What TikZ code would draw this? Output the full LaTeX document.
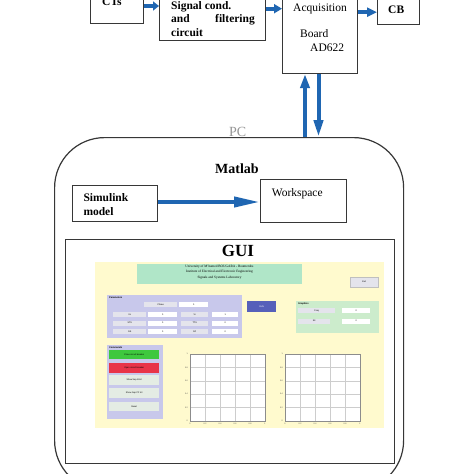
\documentclass[tikz,border=0pt]{standalone}
\usepackage{fontspec}
\setmainfont{Liberation Serif}
\newfontfamily\guifont{Liberation Sans}
\usetikzlibrary{arrows.meta}
\definecolor{arrowblue}{RGB}{31,102,178}
\definecolor{frame}{RGB}{55,55,55}
\definecolor{guiyellow}{RGB}{255,250,206}
\definecolor{mint}{RGB}{176,230,200}
\definecolor{lavender}{RGB}{200,200,235}
\definecolor{runblue}{RGB}{86,96,186}
\definecolor{grpanel}{RGB}{204,236,204}
\definecolor{btngreen}{RGB}{62,200,62}
\definecolor{btnred}{RGB}{232,52,72}
\definecolor{btngray}{RGB}{228,236,228}
\definecolor{lblgray}{RGB}{228,228,236}
\definecolor{pcgray}{RGB}{150,150,150}
\definecolor{gridc}{RGB}{205,205,205}
\begin{document}
\begin{tikzpicture}[x=1pt,y=-1pt,
  blk/.style={draw=frame,line width=1.1pt,inner sep=0pt,fill=white},
  txt/.style={inner sep=0pt,font=\fontsize{11.5}{13}\selectfont},
  btxt/.style={inner sep=0pt,font=\bfseries\fontsize{11.5}{13}\selectfont},
  flow/.style={draw=arrowblue,line width=4pt},
  uibox/.style={inner sep=0pt,anchor=north west,font=\guifont\fontsize{2.2}{2.5}\selectfont},
  uilbl/.style={inner sep=0pt,anchor=west,font=\guifont\bfseries\fontsize{2.4}{2.6}\selectfont},
  tick/.style={inner sep=0pt,font=\guifont\fontsize{2}{2.2}\selectfont,text=black!70}
]
\useasboundingbox (0,0) rectangle (474,474);
\fill[white] (0,0) rectangle (474,474);
\clip (0,0) rectangle (474,474);

% ---------- top chain ----------
\node[blk,minimum width=53pt,minimum height=40pt,anchor=south west] (ct) at (90,24) {};
\node[blk,minimum width=106pt,minimum height=60pt,anchor=south west] (sig) at (159,41) {};
\node[blk,minimum width=75pt,minimum height=90pt,anchor=south west] (daq) at (282,74) {};
\node[blk,minimum width=42pt,minimum height=40pt,anchor=south west] (cb) at (377,25) {};

\node[btxt,anchor=base west] (ctt) at (102,5) {CTs};
\node[btxt,anchor=base west] (sig1) at (171,9.5) {Signal cond.};
\node[btxt,anchor=base west] (sig2) at (171,22.5) {and};
\node[btxt,anchor=base east] (sig3) at (255,22.5) {filtering};
\node[btxt,anchor=base west] (sig4) at (171,36) {circuit};
\node[txt,anchor=base west] (daq1) at (293,11) {Acquisition};
\node[txt,anchor=base west] (daq2) at (300,37.7) {Board};
\node[txt,anchor=base west] (daq3) at (310,51.7) {AD622};
\node[btxt,anchor=base west] (cbt) at (388,13.3) {CB};

\coordinate (ya) at (0,6);
\coordinate (yb) at (0,8.7);
\coordinate (yc) at (0,12.2);
\coordinate (xu) at (305,0);
\coordinate (xd) at (318.5,0);

\draw[flow,-{Triangle[length=6pt,width=9pt]}] (ct.east |- ya) -- (sig.west |- ya);
\draw[flow,-{Triangle[length=8pt,width=9pt]}] (sig.east |- yb) -- (daq.west |- yb);
\draw[flow,-{Triangle[length=10pt,width=9pt]}] (daq.east |- yc) -- (cb.west |- yc);

% ---------- PC ----------
\node[draw=frame,line width=1.2pt,rounded corners=50pt,minimum width=349pt,minimum height=353pt,anchor=north west,inner sep=0pt] (pc) at (54,137) {};
\node[inner sep=0pt,anchor=base west,text=pcgray,font=\fontsize{14}{16}\selectfont] (pct) at (229,136.7) {PC};

\draw[flow,-{Triangle[length=14pt,width=9pt]}] (pc.north -| xu) -- (daq.south -| xu);
\draw[flow,-{Triangle[length=17pt,width=9pt]}] (daq.south -| xd) -- (pc.north -| xd);

\node[inner sep=0pt,anchor=base west,font=\bfseries\fontsize{14}{16}\selectfont] (mat) at (215,173.3) {Matlab};

\node[blk,minimum width=85pt,minimum height=36pt,anchor=north west] (sim) at (72,185) {};
\node[btxt,anchor=base west] (sim1) at (83.3,201.7) {Simulink};
\node[btxt,anchor=base west] (sim2) at (83.3,215) {model};
\node[blk,minimum width=86pt,minimum height=43pt,anchor=north west] (ws) at (260,179) {};
\node[txt,anchor=base west] (wst) at (271.7,196.5) {Workspace};
\draw[flow,-{Triangle[length=26pt,width=10pt]}] (sim.east |- 0,202) -- (ws.west |- 0,202);

% ---------- GUI ----------
\node[blk,minimum width=329pt,minimum height=224pt,anchor=north west] (gui) at (65,239) {};
\node[inner sep=0pt,anchor=base,font=\bfseries\fontsize{17}{19}\selectfont] (guit) at (238,256) {GUI};

\fill[guiyellow] (95,262) rectangle (384,428);
\node[uibox,fill=mint,minimum width=165pt,minimum height=20pt] (title) at (137,264) {};
\node[inner sep=0pt,font=\fontsize{3.4}{4}\selectfont] (tl1) at (219.5,267) {University of M'hamed BOUGARA - Boumerdes};
\node[inner sep=0pt,font=\fontsize{3.4}{4}\selectfont] (tl2) at (219.5,272) {Institute of Electrical and Electronic Engineering};
\node[inner sep=0pt,font=\fontsize{3.4}{4}\selectfont] (tl3) at (219.5,278) {Signals and Systems Laboratory};
\node[uibox,fill=lblgray,draw=black!25,line width=.3pt,minimum width=28pt,minimum height=10pt] (exit) at (350,277) {Exit};

% parameters
\fill[lavender] (107,295) rectangle (242,338);
\node[uilbl] (parl) at (109,298) {Parameters};
\node[uibox,fill=lblgray,minimum width=33pt,minimum height=5pt] (ph) at (144,302) {Phase};
\node[uibox,fill=white,minimum width=29pt,minimum height=5pt] (phv) at (179,302) {0};
\node[uibox,fill=lblgray,minimum width=33pt,minimum height=5pt] (r2a) at (113,312) {Vs};
\node[uibox,fill=white,minimum width=29pt,minimum height=5pt] (r2b) at (148,312) {0};
\node[uibox,fill=lblgray,minimum width=27pt,minimum height=5pt] (r2c) at (181,312) {Vi};
\node[uibox,fill=white,minimum width=26pt,minimum height=5pt] (r2d) at (212,312) {1};
\node[uibox,fill=lblgray,minimum width=33pt,minimum height=5pt] (r3a) at (113,320.5) {STS};
\node[uibox,fill=white,minimum width=29pt,minimum height=5pt] (r3b) at (148,320.5) {0};
\node[uibox,fill=lblgray,minimum width=27pt,minimum height=5pt] (r3c) at (181,320.5) {TTS};
\node[uibox,fill=white,minimum width=26pt,minimum height=5pt] (r3d) at (212,320.5) {0};
\node[uibox,fill=lblgray,minimum width=33pt,minimum height=5pt] (r4a) at (113,329) {NS};
\node[uibox,fill=white,minimum width=29pt,minimum height=5pt] (r4b) at (148,329) {0};
\node[uibox,fill=lblgray,minimum width=27pt,minimum height=5pt] (r4c) at (181,329) {NF};
\node[uibox,fill=white,minimum width=26pt,minimum height=5pt] (r4d) at (212,329) {0};

\node[uibox,fill=runblue,text=white,minimum width=29pt,minimum height=11pt] (run) at (247,301) {RUN};

% graphics
\fill[grpanel] (296,301) rectangle (379,333);
\node[uilbl] (grl) at (298,303.5) {Graphics};
\node[uibox,fill=lblgray,minimum width=37pt,minimum height=5pt] (g1) at (298,308) {Freq};
\node[uibox,fill=white,minimum width=28pt,minimum height=5pt] (g1v) at (342,308) {0};
\node[uibox,fill=lblgray,minimum width=32pt,minimum height=5pt] (g2) at (298,318.5) {Str};
\node[uibox,fill=white,minimum width=28pt,minimum height=5pt] (g2v) at (342,318.5) {0};

% commands
\fill[lavender] (107,345) rectangle (163,419);
\node[uilbl] (cml) at (109,347.5) {Commands};
\node[uibox,fill=btngreen,minimum width=50pt,minimum height=9pt] (c1) at (109,350) {Close circuit breaker};
\node[uibox,fill=btnred,minimum width=50pt,minimum height=10pt] (c2) at (109,363) {Open circuit breaker};
\node[uibox,fill=btngray,minimum width=50pt,minimum height=10pt] (c3) at (109,375) {Show Sep B Int};
\node[uibox,fill=btngray,minimum width=50pt,minimum height=10pt] (c4) at (109,388) {Show Sep PF Int};
\node[uibox,fill=btngray,minimum width=50pt,minimum height=9pt] (c5) at (109,402) {Reset};

% plots
\foreach \ox/\nm in {190/pa,285/pb} {
  \fill[white] (\ox,354) rectangle (\ox+75,421);
  \foreach \i in {1,...,4} {
    \draw[gridc,line width=.5pt] (\ox+15*\i,354) -- (\ox+15*\i,421);
    \draw[gridc,line width=.5pt] (\ox,354+13.4*\i) -- (\ox+75,354+13.4*\i);
  }
  \draw[black!45,line width=.5pt] (\ox,354) rectangle (\ox+75,421);
  \foreach \j/\v in {0/0,1/0.2,2/0.4,3/0.6,4/0.8,5/1} {
    \node[tick,anchor=east] (\nm-y\j) at (\ox-2,421-13.4*\j) {\v};
    \node[tick,anchor=north] (\nm-x\j) at (\ox+15*\j,423) {\v};
  }
}
\end{tikzpicture}
\end{document}
